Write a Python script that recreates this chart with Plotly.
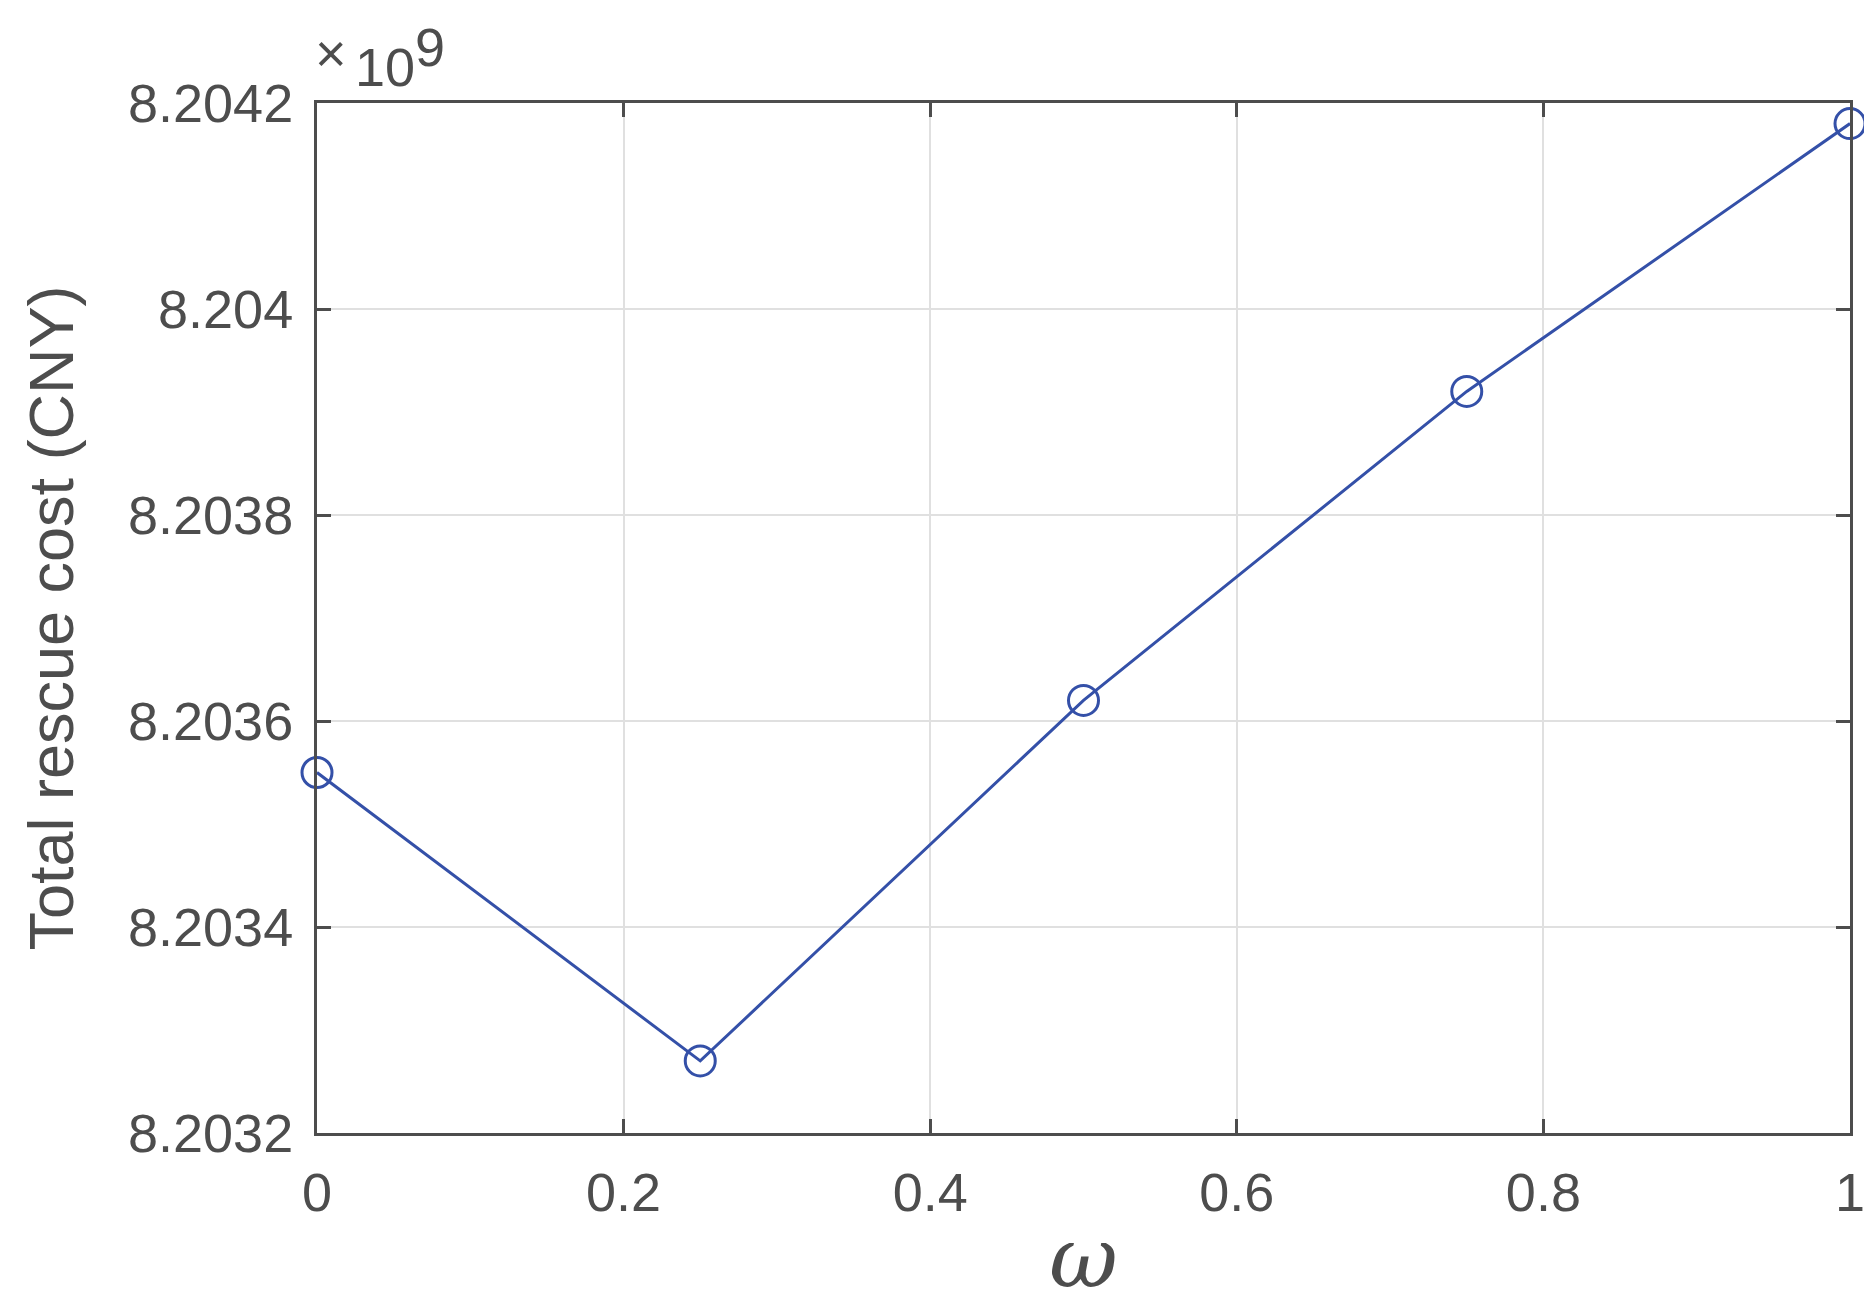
import plotly.graph_objs as go

# weight omega vs total rescue cost (CNY)
omega = [0, 0.25, 0.5, 0.75, 1]
total_cost = [8.20355e9, 8.20327e9, 8.20362e9, 8.20392e9, 8.20418e9]

x_ticks = [0, 0.2, 0.4, 0.6, 0.8, 1]
x_labels = ["0", "0.2", "0.4", "0.6", "0.8", "1"]
y_ticks = [8.2032e9, 8.2034e9, 8.2036e9, 8.2038e9, 8.204e9, 8.2042e9]
y_labels = ["8.2032", "8.2034", "8.2036", "8.2038", "8.204", "8.2042"]

txt = "#4d4d4d"
blue = "#3450a8"
fnt = "Liberation Sans, Arial, sans-serif"

fig = go.Figure()
fig.add_trace(go.Scatter(
    x=omega, y=total_cost, mode="lines+markers",
    line=dict(color=blue, width=3),
    marker=dict(symbol="circle-open", size=30, color=blue, line=dict(width=3)),
    showlegend=False, cliponaxis=False,
))

axis_style = dict(
    showline=True, linecolor=txt, linewidth=3, mirror="ticks",
    ticks="inside", ticklen=14, tickwidth=3, tickcolor=txt,
    showgrid=True, gridcolor="#e0e0e0", gridwidth=2,
    zeroline=False, tickfont=dict(family=fnt, size=54, color=txt),
)

fig.update_xaxes(range=[0, 1], tickvals=x_ticks, ticktext=x_labels,
                 ticklabelstandoff=10,
                 title=dict(text="<i>ω</i>", font=dict(family="DejaVu Serif, serif", size=84, color=txt),
                            standoff=8),
                 **axis_style)
fig.update_yaxes(range=[8.2032e9, 8.2042e9], tickvals=y_ticks, ticktext=y_labels,
                 ticklabelstandoff=10,
                 title=dict(text="Total rescue cost (CNY)", font=dict(family=fnt, size=63, color=txt),
                            standoff=34),
                 **axis_style)

# exponent label "x10^9" above the top-left corner
for s, dx, dy in [("×", -4, 50), ("10", 36, 36), ("9", 96, 56)]:
    fig.add_annotation(
        x=0, y=1, xref="paper", yref="paper", xanchor="left", yanchor="middle",
        xshift=dx, yshift=dy, showarrow=False, text=s,
        font=dict(family=fnt, size=54, color=txt),
    )

fig.update_layout(
    width=1872, height=1305,
    paper_bgcolor="white", plot_bgcolor="white",
    margin=dict(l=309, r=30, t=95, b=180, autoexpand=False),
)

fig.write_html("out.html")
